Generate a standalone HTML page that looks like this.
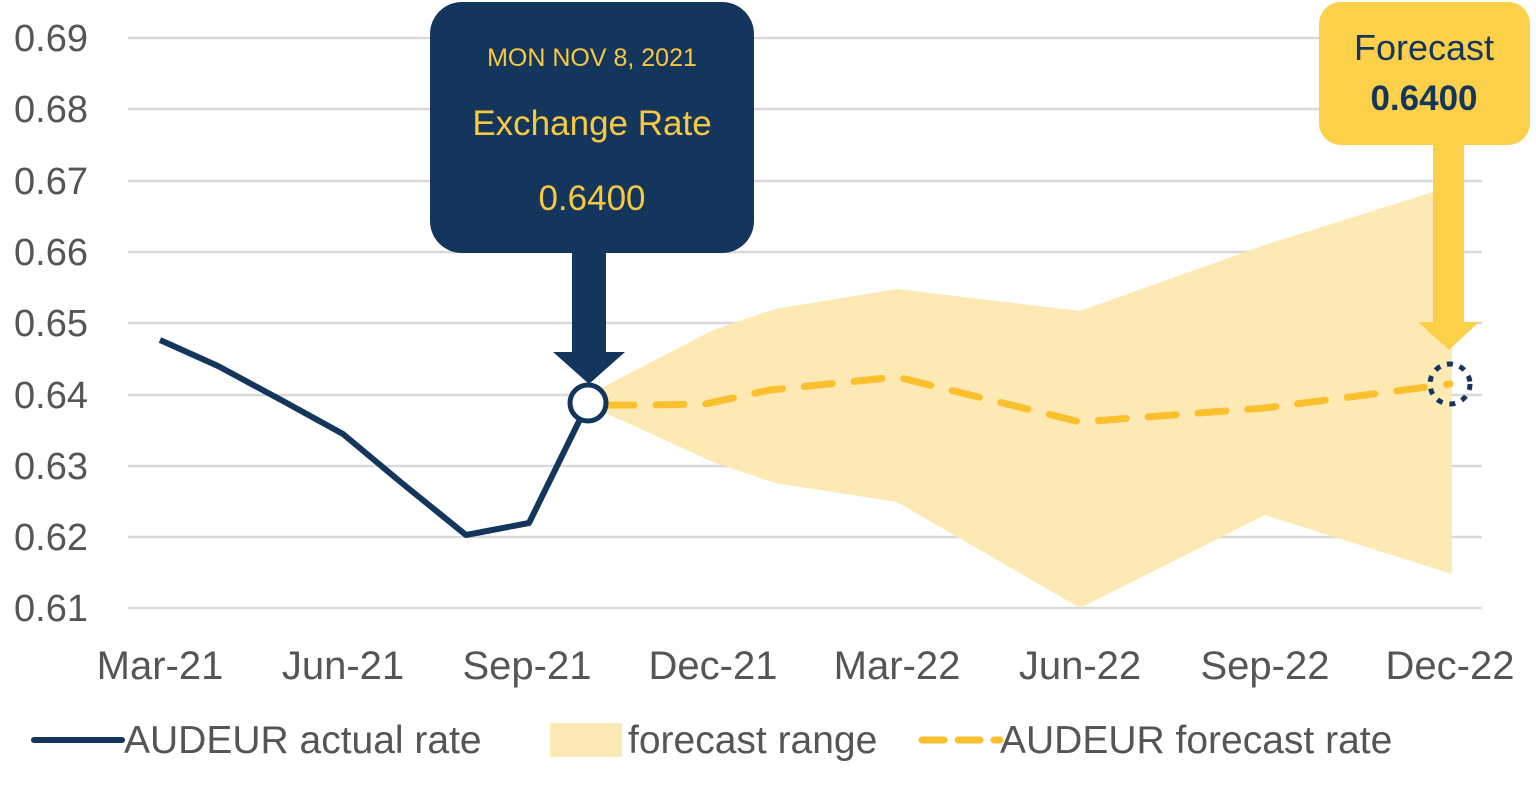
<!DOCTYPE html>
<html><head><style>
body{margin:0;background:#fff;}
svg{display:block;font-family:"Liberation Sans",Calibri,sans-serif;}
</style></head><body>
<svg width="1536" height="803" viewBox="0 0 1536 803">
<g stroke="#d9d9d9" stroke-width="2.5">
<line x1="128" x2="1482" y1="38" y2="38"/><line x1="128" x2="1482" y1="109" y2="109"/>
<line x1="128" x2="1482" y1="181" y2="181"/><line x1="128" x2="1482" y1="252" y2="252"/>
<line x1="128" x2="1482" y1="323" y2="323"/><line x1="128" x2="1482" y1="395" y2="395"/>
<line x1="128" x2="1482" y1="466" y2="466"/><line x1="128" x2="1482" y1="537" y2="537"/>
<line x1="128" x2="1482" y1="608" y2="608"/>
</g>
<g fill="#555" font-size="38" text-anchor="end">
<text x="88" y="51">0.69</text><text x="88" y="122">0.68</text><text x="88" y="194">0.67</text>
<text x="88" y="265">0.66</text><text x="88" y="336">0.65</text><text x="88" y="408">0.64</text>
<text x="88" y="479">0.63</text><text x="88" y="550">0.62</text><text x="88" y="621">0.61</text>
</g>
<g fill="#555" font-size="40" text-anchor="middle">
<text x="160" y="679">Mar-21</text><text x="343" y="679">Jun-21</text><text x="527" y="679">Sep-21</text>
<text x="713" y="679">Dec-21</text><text x="897" y="679">Mar-22</text><text x="1080" y="679">Jun-22</text>
<text x="1265" y="679">Sep-22</text><text x="1450" y="679">Dec-22</text>
</g>
<polygon fill="#fde9b3" points="588,395 713,330 775,309 897,289 1080,311 1265,245 1452,186 1452,574 1265,515 1080,608 897,502 775,483 713,462 588,405"/>
<polyline fill="none" stroke="#14365c" stroke-width="6" stroke-linejoin="round" points="160,340 218,366 283,401 343,434 403,484 466,535 529,523 588,403"/>
<polyline fill="none" stroke="#fbc02d" stroke-width="7" stroke-dasharray="28,22" stroke-linecap="round" points="606,405 650,405 705,404 770,390 897,377 1080,422 1265,408 1450,384"/>
<rect x="430" y="2" width="324" height="251" rx="32" fill="#14365c"/>
<rect x="572" y="250" width="34" height="103" fill="#14365c"/>
<polygon points="553,352 625,352 589,384" fill="#14365c"/>
<circle cx="588" cy="403" r="18" fill="#fff" stroke="#14365c" stroke-width="5"/>
<g fill="#f8c93f" text-anchor="middle">
<text x="592" y="66" font-size="25">MON NOV 8, 2021</text>
<text x="592" y="135" font-size="35">Exchange Rate</text>
<text x="592" y="210" font-size="35">0.6400</text>
</g>
<rect x="1319" y="2" width="211" height="143" rx="22" fill="#fdd04a"/>
<rect x="1433" y="140" width="31" height="183" fill="#fdd04a"/>
<polygon points="1418,322 1479,322 1449,350" fill="#fdd04a"/>
<circle cx="1450" cy="384" r="20" fill="none" stroke="#14365c" stroke-width="5" stroke-dasharray="6,7"/>
<g fill="#14365c" text-anchor="middle">
<text x="1424" y="60" font-size="36">Forecast</text>
<text x="1424" y="110" font-size="35" font-weight="bold">0.6400</text>
</g>
<line x1="34" x2="122" y1="740" y2="740" stroke="#14365c" stroke-width="6" stroke-linecap="round"/>
<text x="124" y="753" font-size="39" fill="#555">AUDEUR actual rate</text>
<rect x="550" y="723" width="72" height="34" fill="#fde9b3"/>
<text x="628" y="753" font-size="39" fill="#555">forecast range</text>
<line x1="922" x2="1000" y1="740" y2="740" stroke="#fbc02d" stroke-width="7" stroke-dasharray="22,14" stroke-linecap="round"/>
<text x="1000" y="753" font-size="39" fill="#555">AUDEUR forecast rate</text>
</svg>
</body></html>
